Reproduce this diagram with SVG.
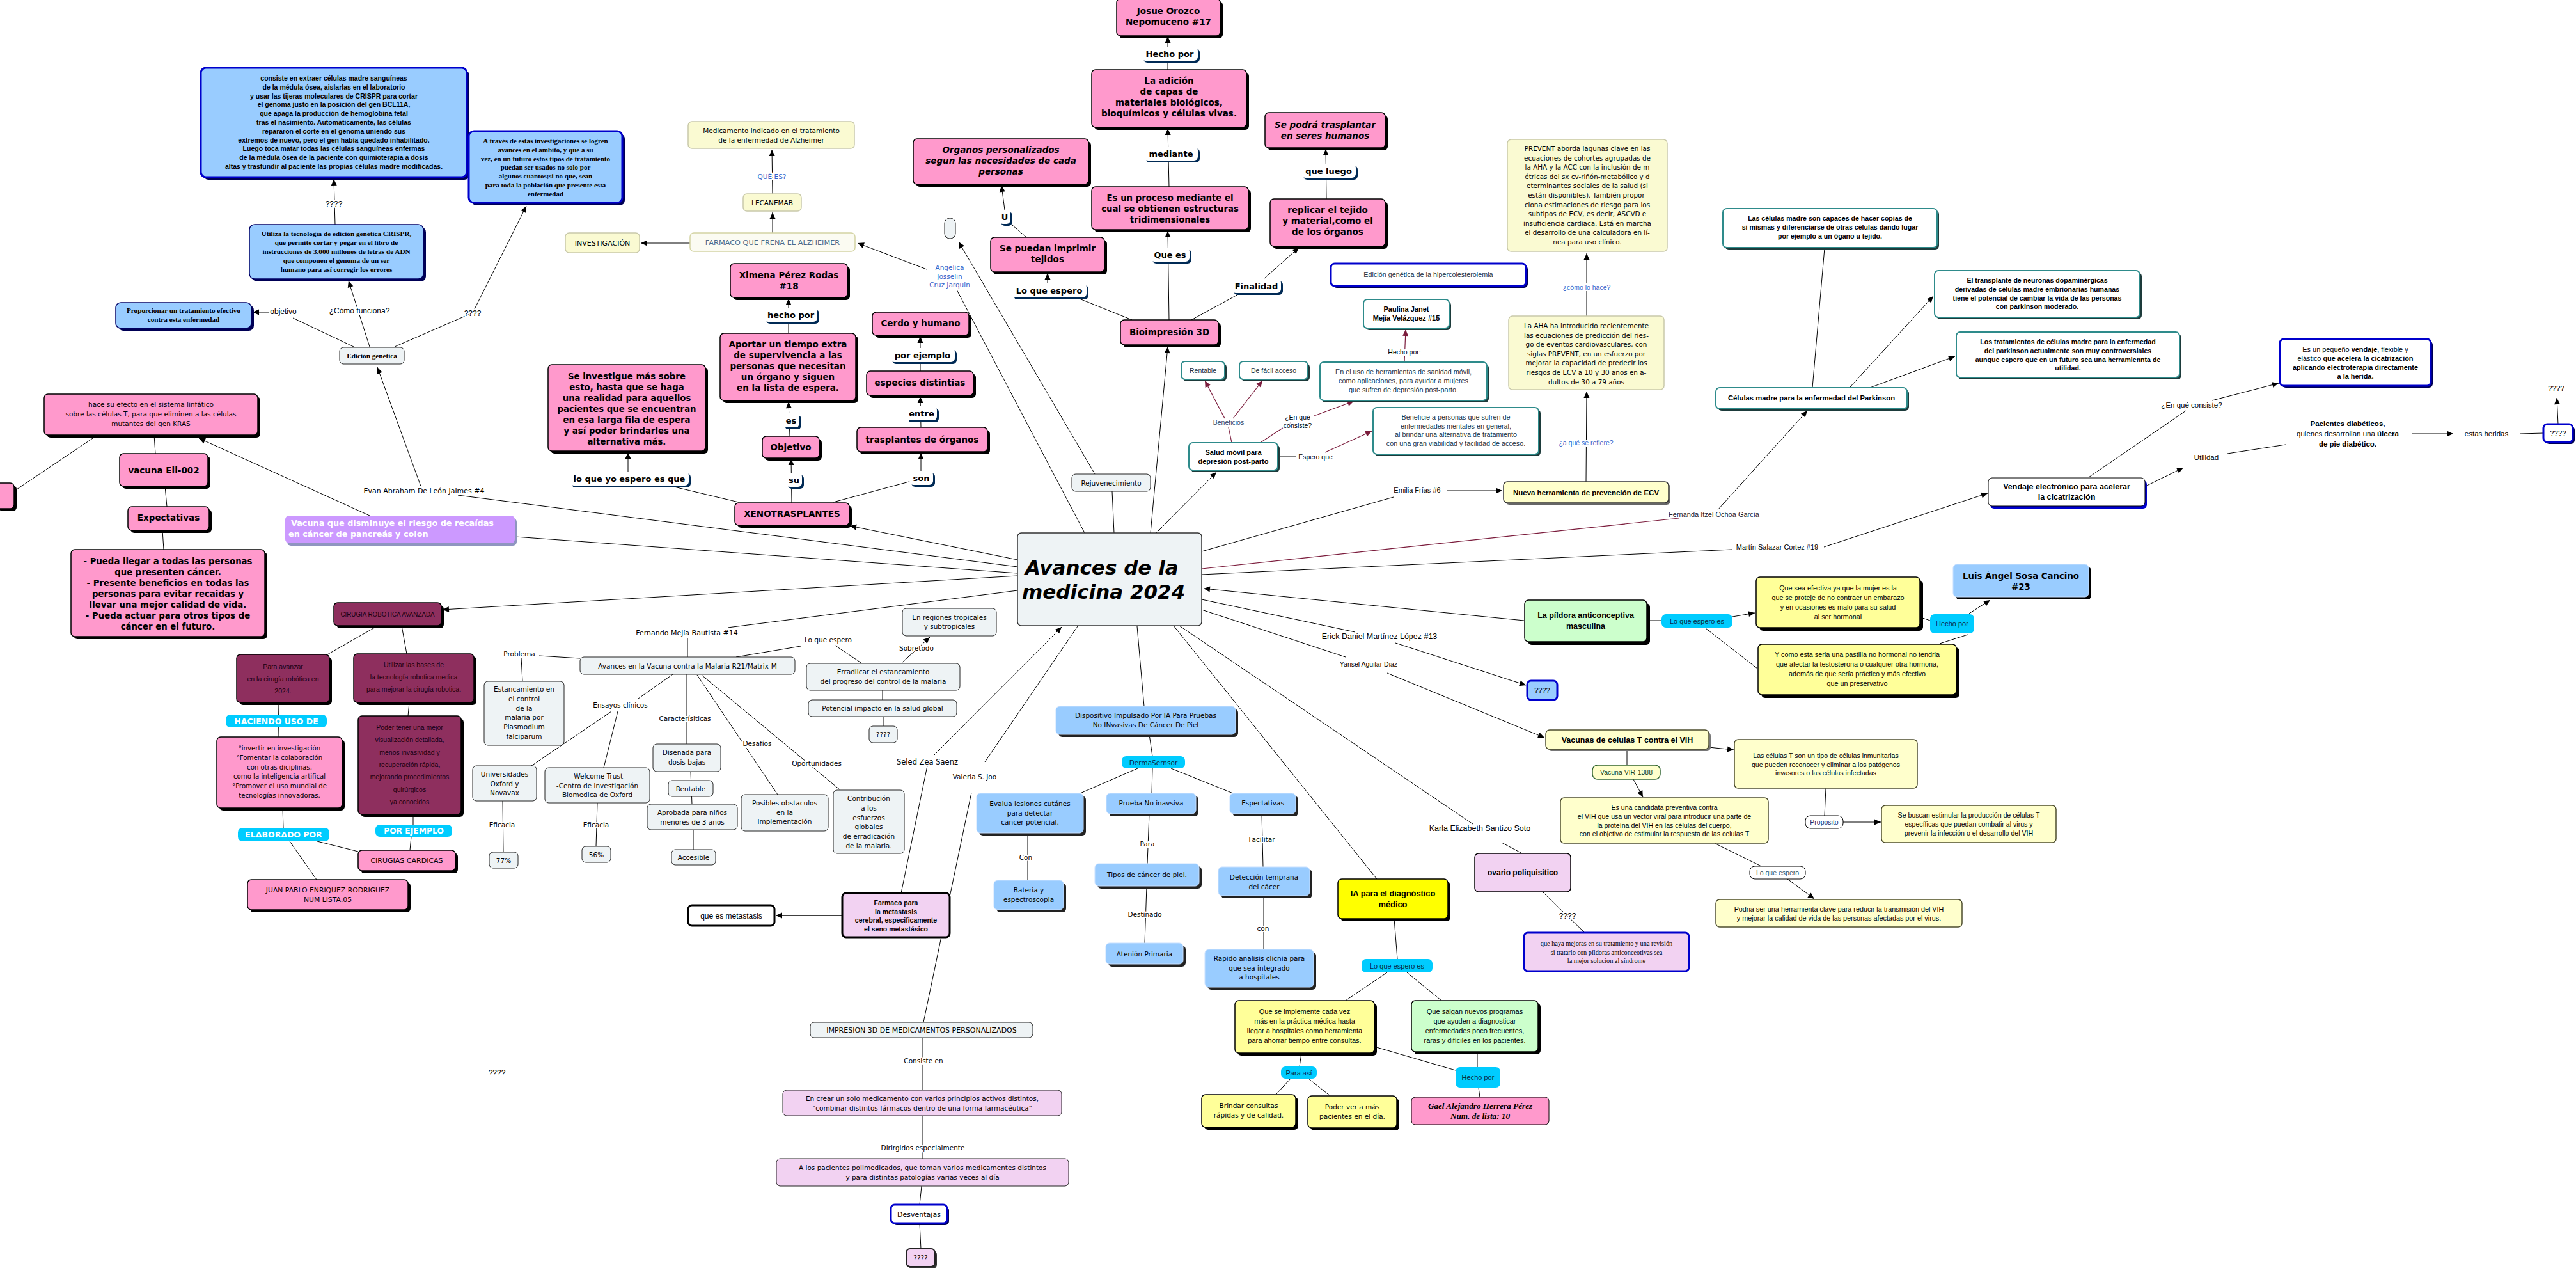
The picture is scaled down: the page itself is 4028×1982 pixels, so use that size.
<svg xmlns="http://www.w3.org/2000/svg" width="4028" height="1982" viewBox="0 0 4028 1982" font-family="'DejaVu Sans', sans-serif" font-size="10.5">
<defs>
<marker id="ah" viewBox="0 0 10 10" refX="10" refY="5" markerWidth="11" markerHeight="10" markerUnits="userSpaceOnUse" orient="auto"><path d="M0,0.5 L10,5 L0,9.5 z" fill="#000"/></marker>
<marker id="ahr" viewBox="0 0 10 10" refX="10" refY="5" markerWidth="11" markerHeight="10" markerUnits="userSpaceOnUse" orient="auto"><path d="M0,0.5 L10,5 L0,9.5 z" fill="#7b1c3c"/></marker>
</defs>
<style>
text{fill:#000}
.ar{font-family:"Liberation Sans",Arial,sans-serif}
.tm{font-family:"Liberation Serif","Times New Roman",serif}
.b{font-weight:bold}
.i{font-style:italic}
.c{text-anchor:middle}
.lbl{paint-order:stroke;stroke:#fff;stroke-width:4px;stroke-linejoin:round}
.blu{fill:#3366cc}
.wt{fill:#fff}
.ln{fill:none;stroke:#000;stroke-width:1}
.lr{fill:none;stroke:#7b1c3c;stroke-width:1.2}
.a{marker-end:url(#ah)}
.ar2{marker-end:url(#ahr)}
.pk{fill:#ff99cc;stroke:#000;stroke-width:1.5}
.shk{fill:#000}
.gy{fill:#eef3f5;stroke:#222;stroke-width:1}
.cr{fill:#fafad2;stroke:#c9c9aa;stroke-width:1.5}
.bl{fill:#99ccff;stroke:#0000cc;stroke-width:3}
.bl1{fill:#99ccff;stroke:#000066;stroke-width:1.5}
.shn{fill:#000055}
.tl{fill:#fff;stroke:#2e8b8b;stroke-width:2}
.sht{fill:#1d3b3b}
.ly{fill:#ffffcc;stroke:#4d4d2e;stroke-width:1.5}
.yy{fill:#ffff99;stroke:#000;stroke-width:1.5}
.gr{fill:#ccffcc;stroke:#000;stroke-width:1.5}
.pu{fill:#f2d2f2;stroke:#222;stroke-width:1.5}
.mg{fill:#8e2f5e;stroke:#000;stroke-width:1.5}
.cy{fill:#00ccff}
.wl{fill:#fff;stroke:#000;stroke-width:1}
.db{fill:#99ccff;stroke:#c8e0ff;stroke-width:1}
.wb{fill:#fff;stroke:#0000cc;stroke-width:3}
.wh{fill:#fff}
</style>
<rect width="4028" height="1982" fill="#fff"/>

<g id="connectors">
<path class="ln" d="M553,542 L458,497"/>
<path class="ln a" d="M430,488 L395,488"/>
<path class="ln a" d="M578,542 L545,439"/>
<path class="ln a" d="M524,351 L522,280"/>
<path class="ln a" d="M617,542 L739,489 L823,322"/>
<path class="ln a" d="M658,760 L590,574"/>
<path class="ln" d="M716,774 L1591,886"/>
<path class="ln a" d="M1079,380 L1002,380"/>
<path class="ln a" d="M1208,364 L1208,332"/>
<path class="ln a" d="M1208,303 L1207,234"/>
<path class="ln a" d="M1449,421 L1341,380"/>
<path class="ln" d="M1496,453 L1696,833"/>
<path class="ln a" d="M1712,741 L1499,378"/>
<path class="ln" d="M1739,768 L1742,833"/>
<path class="ln a" d="M1799,833 L1826,542"/>
<path class="ln a" d="M1808,833 L1902,738"/>
<path class="ln" d="M1879,862 L2179,777"/>
<path class="ln a" d="M2263,767 L2349,767"/>
<path class="ln a" d="M2480,753 L2481,612"/>
<path class="ln a" d="M2481,494 L2481,396"/>
<path class="lr" d="M1879,889 L2625,810"/>
<path class="ln a" d="M2686,797 L2826,642"/>
<path class="ln" d="M2834,606 L2853,388"/>
<path class="ln a" d="M2892,606 L3023,463"/>
<path class="ln a" d="M2924,606 L3057,557"/>
<path class="ln" d="M1879,898 L2708,859"/>
<path class="ln a" d="M2852,855 L3108,771"/>
<path class="ln" d="M3266,746 L3418,642"/>
<path class="ln a" d="M3459,626 L3563,599"/>
<path class="ln a" d="M3357,759 L3414,731"/>
<path class="ln" d="M3483,709 L3574,695"/>
<path class="ln a" d="M3772,678 L3836,678"/>
<path class="ln" d="M3941,678 L3977,677"/>
<path class="ln a" d="M4000,663 L3998,622"/>
<path class="ln a" d="M2383,970 L1882,920"/>
<path class="ln" d="M2575,970 L2598,970"/>
<path class="ln a" d="M2709,964 L2744,958"/>
<path class="ln" d="M2667,982 L2748,1045"/>
<path class="ln" d="M3003,965 L3018,970"/>
<path class="ln a" d="M3079,959 L3112,938"/>
<path class="ln" d="M3077,992 L3033,1006"/>
<path class="ln" d="M1879,937 L2119,988"/>
<path class="ln a" d="M2182,1005 L2386,1071"/>
<path class="ln" d="M1879,953 L2104,1027"/>
<path class="ln a" d="M2169,1052 L2415,1153"/>
<path class="ln a" d="M2672,1168 L2711,1172"/>
<path class="ln" d="M2544,1171 L2544,1196"/>
<path class="ln a" d="M2554,1218 L2569,1246"/>
<path class="ln" d="M2855,1232 L2853,1275"/>
<path class="ln a" d="M2882,1285 L2941,1285"/>
<path class="ln" d="M2681,1318 L2754,1354"/>
<path class="ln a" d="M2795,1374 L2837,1405"/>
<path class="ln" d="M1844,978 L2303,1288"/>
<path class="ln" d="M2348,1317 L2380,1334"/>
<path class="ln" d="M2412,1394 L2451,1432 L2478,1458"/>
<path class="ln" d="M1835,978 L2153,1374"/>
<path class="ln" d="M2180,1436 L2185,1499"/>
<path class="ln" d="M2169,1520 L2104,1564"/>
<path class="ln" d="M2200,1520 L2254,1564"/>
<path class="ln" d="M2035,1646 L2032,1667"/>
<path class="ln" d="M2018,1686 L1995,1711"/>
<path class="ln" d="M2046,1686 L2080,1713"/>
<path class="ln" d="M2310,1644 L2310,1668"/>
<path class="ln" d="M2149,1636 L2276,1673"/>
<path class="ln" d="M2312,1700 L2314,1715"/>
<path class="ln" d="M1778,979 L1789,1104"/>
<path class="ln" d="M1797,1148 L1802,1182"/>
<path class="ln" d="M1779,1201 L1689,1240"/>
<path class="ln" d="M1802,1201 L1801,1240"/>
<path class="ln" d="M1831,1201 L1928,1240"/>
<path class="ln" d="M1607,1302 L1607,1376"/>
<path class="ln" d="M1797,1272 L1794,1350"/>
<path class="ln" d="M1793,1385 L1790,1474"/>
<path class="ln" d="M1973,1272 L1975,1355"/>
<path class="ln" d="M1976,1400 L1976,1484"/>
<path class="ln" d="M1685,979 L1540,1191"/>
<path class="ln" d="M1519,1239 L1444,1598"/>
<path class="ln a" d="M1459,1182 L1660,980"/>
<path class="ln" d="M1450,1197 L1409,1396"/>
<path class="ln a" d="M1316,1431 L1213,1431" style="stroke-width:1.5"/>
<path class="ln" d="M1443,1622 L1443,1704"/>
<path class="ln" d="M1443,1744 L1443,1811"/>
<path class="ln" d="M1441,1854 L1438,1883"/>
<path class="ln" d="M1438,1912 L1440,1952"/>
<path class="ln" d="M1591,923 L1138,981"/>
<path class="ln" d="M1075,998 L1075,1027"/>
<path class="ln" d="M907,1029 L843,1025"/>
<path class="ln" d="M815,1028 L817,1065"/>
<path class="ln" d="M1052,1054 L998,1092"/>
<path class="ln" d="M956,1112 L831,1197"/>
<path class="ln" d="M966,1112 L944,1200"/>
<path class="ln" d="M786,1252 L787,1332"/>
<path class="ln" d="M934,1255 L932,1323"/>
<path class="ln" d="M1074,1054 L1074,1163"/>
<path class="ln" d="M1080,1206 L1082,1257"/>
<path class="ln" d="M1084,1297 L1084,1328"/>
<path class="ln" d="M1090,1055 L1216,1242"/>
<path class="ln" d="M1097,1055 L1314,1235"/>
<path class="ln" d="M1151,1027 L1252,1010"/>
<path class="ln" d="M1306,1009 L1348,1037"/>
<path class="ln a" d="M1409,1037 L1454,996"/>
<path class="ln" d="M1380,1079 L1380,1094"/>
<path class="ln" d="M1381,1120 L1381,1135"/>
<path class="ln a" d="M1591,900 L692,953"/>
<path class="ln" d="M591,978 L512,1023"/>
<path class="ln" d="M628,978 L636,1022"/>
<path class="ln" d="M436,1098 L435,1152"/>
<path class="ln" d="M442,1263 L443,1294"/>
<path class="ln" d="M496,1315 L560,1331"/>
<path class="ln" d="M453,1315 L495,1375"/>
<path class="ln" d="M640,1098 L638,1119"/>
<path class="ln" d="M646,1273 L646,1289"/>
<path class="ln" d="M643,1308 L641,1329"/>
<path class="ln" d="M1591,896 L806,839"/>
<path class="ln a" d="M578,806 L311,685"/>
<path class="ln" d="M241,680 L243,709"/>
<path class="ln" d="M258,760 L261,792"/>
<path class="ln" d="M254,829 L256,859"/>
<path class="ln" d="M26,765 L151,681"/>
<path class="ln a" d="M1591,875 L1329,822"/>
<path class="ln a" d="M1238,786 L1237,717"/>
<path class="ln a" d="M1235,682 L1233,628"/>
<path class="ln a" d="M1233,521 L1233,467"/>
<path class="ln" d="M1303,785 L1425,752"/>
<path class="ln a" d="M1440,737 L1440,708"/>
<path class="ln a" d="M1440,668 L1439,620"/>
<path class="ln a" d="M1439,580 L1439,526"/>
<path class="ln" d="M1155,785 L1050,760"/>
<path class="ln a" d="M982,737 L982,707"/>
<path class="ln a" d="M1828,500 L1826,361"/>
<path class="ln a" d="M1828,292 L1826,201"/>
<path class="ln a" d="M1826,109 L1826,57"/>
<path class="ln" d="M1770,500 L1683,465"/>
<path class="ln a" d="M1638,443 L1638,427"/>
<path class="ln" d="M1605,371 L1583,352"/>
<path class="ln a" d="M1571,328 L1566,290"/>
<path class="ln" d="M1863,500 L1940,458"/>
<path class="ln a" d="M1976,436 L2031,387"/>
<path class="ln a" d="M2074,311 L2073,233"/>
<path class="lr" d="M1926,692 L1921,668"/>
<path class="lr ar2" d="M1915,654 L1884,595"/>
<path class="lr ar2" d="M1928,654 L1974,595"/>
<path class="lr" d="M1969,693 L2018,661"/>
<path class="lr ar2" d="M2055,650 L2117,627"/>
<path class="lr ar2" d="M2196,566 L2198,515"/>
<path class="ln" d="M1998,714 L2026,714"/>
<path class="lr ar2" d="M2072,707 L2145,674"/>
</g>

<g id="labels">
<text class="ar c lbl" x="522" y="323" font-size="12">????</text>
<text class="ar c lbl" x="443" y="491" font-size="12">objetivo</text>
<text class="ar c lbl" x="562" y="490" font-size="12">¿Cómo funciona?</text>
<text class="ar c lbl" x="739" y="494" font-size="12">????</text>
<text class="c lbl" x="663" y="771" font-size="11">Evan Abraham De León Jaimes #4</text>
<text class="c lbl blu" x="1207" y="280" font-size="10.5">QUÉ ES?</text>
<text class="c lbl blu" font-size="10.5"><tspan x="1485" y="422">Angelica</tspan><tspan x="1485" dy="13.5">Josselin</tspan><tspan x="1485" dy="13.5">Cruz Jarquin</tspan></text>
<text class="c lbl" x="1074" y="993" font-size="11">Fernando Mejía Bautista #14</text>
<text class="c lbl" x="812" y="1026">Problema</text>
<text class="c lbl" x="970" y="1106">Ensayos clínicos</text>
<text class="c lbl" x="1071" y="1127">Caracterísiticas</text>
<text class="c lbl" x="1184" y="1166">Desafíos</text>
<text class="c lbl" x="1277" y="1197">Oportunidades</text>
<text class="c lbl" x="785" y="1293">Eficacia</text>
<text class="c lbl" x="932" y="1293">Eficacia</text>
<text class="c lbl" x="1295" y="1004">Lo que espero</text>
<text class="c lbl" x="1433" y="1017">Sobretodo</text>
<text class="c lbl" x="1450" y="1195" font-size="11.5">Seled Zea Saenz</text>
<text class="c lbl" x="1524" y="1218" font-size="10.5">Valeria S. Joo</text>
<text class="c lbl" x="1444" y="1662">Consiste en</text>
<text class="c lbl" x="1443" y="1798">Dirirgidos especialmente</text>
<text class="c lbl" x="1604" y="1344">Con</text>
<text class="c lbl" x="1794" y="1323">Para</text>
<text class="c lbl" x="1790" y="1433">Destinado</text>
<text class="c lbl" x="1973" y="1316">Facilitar</text>
<text class="c lbl" x="1975" y="1455">con</text>
<text class="ar c lbl" x="777" y="1681" font-size="12">????</text>
<text class="ar c lbl" x="2216" y="770" font-size="11">Emilia Frías #6</text>
<text class="ar c lbl blu" x="2481" y="453" font-size="10.5">¿cómo lo hace?</text>
<text class="ar c lbl blu" x="2480" y="696" font-size="10.5">¿a qué se refiere?</text>
<text class="ar c lbl" x="2680" y="808" font-size="11" style="fill:#223">Fernanda Itzel Ochoa García</text>
<text class="ar c lbl" x="2779" y="859" font-size="11">Martín Salazar Cortez #19</text>
<text class="ar c lbl" x="2157" y="999" font-size="12.5">Erick Daniel Martínez López #13</text>
<text class="ar c lbl" x="2140" y="1042" font-size="10.5">Yarisel Aguilar Diaz</text>
<text class="ar c lbl" x="2314" y="1299" font-size="12.5">Karla Elizabeth Santizo Soto</text>
<text class="ar c lbl" x="2451" y="1436" font-size="12">????</text>
<text class="ar c lbl" x="1921" y="664" font-size="10.5" style="fill:#334466">Beneficios</text>
<text class="ar c lbl" font-size="10.5"><tspan x="2029" y="656">¿En qué</tspan><tspan x="2029" dy="13">consiste?</tspan></text>
<text class="ar c lbl" x="2196" y="554" font-size="10.5">Hecho por:</text>
<text class="ar c lbl" x="2057" y="718" font-size="10.5">Espero que</text>
<text class="ar c lbl" x="3427" y="637" font-size="11.5">¿En qué consiste?</text>
<text class="ar c lbl" x="3450" y="719" font-size="11.5">Utilidad</text>
<text class="ar c lbl" font-size="11.5"><tspan x="3671" y="666" class="b">Pacientes diabéticos,</tspan><tspan x="3671" dy="16">quienes desarrollan una </tspan><tspan class="b">úlcera</tspan><tspan x="3671" dy="16" class="b">de pie diabético.</tspan></text>
<text class="ar c lbl" x="3888" y="682" font-size="11.5">estas heridas</text>
<text class="ar c lbl" x="3997" y="611" font-size="11.5">????</text>
</g>

<g id="n-crispr-detalle"><rect x="318" y="110" width="416" height="171" rx="8" class="shn"/><rect x="314" y="106" width="416" height="171" rx="8" class="bl"/>
<text class="ar b c" font-size="10.5"><tspan x="522" y="126">consiste en extraer células madre sanguíneas</tspan><tspan x="522" dy="13.8">de la médula ósea, aislarlas en el laboratorio</tspan><tspan x="522" dy="13.8">y usar las tijeras moleculares de CRISPR para cortar</tspan><tspan x="522" dy="13.8">el genoma justo en la posición del gen BCL11A,</tspan><tspan x="522" dy="13.8">que apaga la producción de hemoglobina fetal</tspan><tspan x="522" dy="13.8">tras el nacimiento. Automáticamente, las células</tspan><tspan x="522" dy="13.8">repararon el corte en el genoma uniendo sus</tspan><tspan x="522" dy="13.8">extremos de nuevo, pero el gen había quedado inhabilitado.</tspan><tspan x="522" dy="13.8">Luego toca matar todas las células sanguíneas enfermas</tspan><tspan x="522" dy="13.8">de la médula ósea de la paciente con quimioterapia a dosis</tspan><tspan x="522" dy="13.8">altas y trasfundir al paciente las propias células madre modificadas.</tspan></text></g>

<g id="n-investigaciones"><rect x="737" y="209" width="240" height="112" rx="8" class="shn"/><rect x="733" y="205" width="240" height="112" rx="8" class="bl"/>
<text class="tm b c" font-size="11"><tspan x="853" y="224">A través de estas investigaciones se logren</tspan><tspan x="853" dy="13.8">avances en el ámbito, y que a su</tspan><tspan x="853" dy="13.8">vez, en un futuro estos tipos de tratamiento</tspan><tspan x="853" dy="13.8">puedan ser usados no solo por</tspan><tspan x="853" dy="13.8">algunos cuantos;si no que, sean</tspan><tspan x="853" dy="13.8">para toda la población que presente esta</tspan><tspan x="853" dy="13.8">enfermedad</tspan></text></g>

<g id="n-utiliza"><rect x="394" y="355" width="272" height="85" rx="8" class="shn"/><rect x="390" y="351" width="272" height="85" rx="8" class="bl1"/>
<text class="tm b c" font-size="11.2"><tspan x="526" y="369">Utiliza la tecnología de edición genética CRISPR,</tspan><tspan x="526" dy="14">que permite cortar y pegar en el libro de</tspan><tspan x="526" dy="14">instrucciones de 3.000 millones de letras de ADN</tspan><tspan x="526" dy="14">que componen el genoma de un ser</tspan><tspan x="526" dy="14">humano para así corregir los errores</tspan></text></g>

<g id="n-proporcionar"><rect x="185" y="477" width="212" height="40" rx="8" class="shn"/><rect x="181" y="473" width="212" height="40" rx="8" class="bl1"/>
<text class="tm b c" font-size="11.2"><tspan x="287" y="489">Proporcionar un tratamiento efectivo</tspan><tspan x="287" dy="14">contra esta enfermedad</tspan></text></g>

<g id="n-edicion"><rect x="531" y="543" width="101" height="26" rx="6" class="gy"/><text class="tm b c" x="581.5" y="560" font-size="11.2">Edición genética</text></g>

<g id="n-investigacion"><rect x="884" y="364" width="116" height="31" rx="6" class="cr"/><text class="c" x="942" y="384" font-size="11">INVESTIGACIÓN</text></g>
<g id="n-farmaco-alz"><rect x="1079" y="364" width="258" height="29" rx="6" style="fill:#fbfbf2;stroke:#d4d4a4;stroke-width:1.5"/><text class="c" x="1208" y="383" font-size="11.3" style="fill:#4a6a8a">FARMACO QUE FRENA EL ALZHEIMER</text></g>
<g id="n-lecanemab"><rect x="1162" y="303" width="91" height="27" rx="6" class="cr"/><text class="c" x="1207.5" y="321" font-size="10.5">LECANEMAB</text></g>
<g id="n-medicamento"><rect x="1076" y="190" width="260" height="42" rx="6" class="cr"/><text class="c" font-size="10.5"><tspan x="1206" y="208">Medicamento indicado en el tratamiento</tspan><tspan x="1206" dy="15">de la enfermedad de Alzheimer</tspan></text></g>

<g id="n-pill"><rect x="1477" y="341" width="17" height="32" rx="8" class="gy"/></g>

<g id="n-josue"><rect x="1750" y="2" width="162" height="58" rx="6" class="shk"/><rect x="1746" y="-2" width="162" height="58" rx="6" class="pk"/><text class="b c" font-size="13.5"><tspan x="1827" y="22">Josue Orozco</tspan><tspan x="1827" dy="17">Nepomuceno #17</tspan></text></g>
<g id="n-adicion"><rect x="1711" y="113" width="242" height="90" rx="6" class="shk"/><rect x="1707" y="109" width="242" height="90" rx="6" class="pk"/><text class="b c" font-size="13.5"><tspan x="1828" y="131">La adición</tspan><tspan x="1828" dy="17">de capas de</tspan><tspan x="1828" dy="17">materiales biológicos,</tspan><tspan x="1828" dy="17">bioquímicos y células vivas.</tspan></text></g>
<g id="n-proceso"><rect x="1711" y="296" width="245" height="67" rx="6" class="shk"/><rect x="1707" y="292" width="245" height="67" rx="6" class="pk"/><text class="b c" font-size="13.3"><tspan x="1829.5" y="314">Es un proceso mediante el</tspan><tspan x="1829.5" dy="17">cual se obtienen estructuras</tspan><tspan x="1829.5" dy="17">tridimensionales</tspan></text></g>
<g id="n-bioimpresion"><rect x="1756" y="504" width="153" height="39" rx="6" class="shk"/><rect x="1752" y="500" width="153" height="39" rx="6" class="pk"/><text class="b c" x="1828.5" y="524" font-size="13.5">Bioimpresión 3D</text></g>
<g id="n-tejidos"><rect x="1553" y="375" width="178" height="54" rx="6" class="shk"/><rect x="1549" y="371" width="178" height="54" rx="6" class="pk"/><text class="b c" font-size="13.5"><tspan x="1638" y="393">Se puedan imprimir</tspan><tspan x="1638" dy="17">tejidos</tspan></text></g>
<g id="n-organos"><rect x="1432" y="221" width="274" height="71" rx="6" class="shk"/><rect x="1428" y="217" width="274" height="71" rx="6" class="pk"/><text class="b i c" font-size="13.5"><tspan x="1565" y="239">Organos personalizados</tspan><tspan x="1565" dy="17">segun las necesidades de cada</tspan><tspan x="1565" dy="17">personas</tspan></text></g>
<g id="n-sepodra"><rect x="1982" y="180" width="188" height="55" rx="6" class="shk"/><rect x="1978" y="176" width="188" height="55" rx="6" class="pk"/><text class="b i c" font-size="13.5"><tspan x="2072" y="200">Se podrá trasplantar</tspan><tspan x="2072" dy="17">en seres humanos</tspan></text></g>
<g id="n-replicar"><rect x="1990" y="315" width="180" height="74" rx="6" class="shk"/><rect x="1986" y="311" width="180" height="74" rx="6" class="pk"/><text class="b c" font-size="13.5"><tspan x="2076" y="333">replicar el tejido</tspan><tspan x="2076" dy="17">y material,como el</tspan><tspan x="2076" dy="17">de los órganos</tspan></text></g>
<g id="n-ximena"><rect x="1146" y="416" width="183" height="53" rx="6" class="shk"/><rect x="1142" y="412" width="183" height="53" rx="6" class="pk"/><text class="b c" font-size="13.5"><tspan x="1233.5" y="435">Ximena Pérez Rodas</tspan><tspan x="1233.5" dy="17">#18</tspan></text></g>
<g id="n-aportar"><rect x="1130" y="525" width="212" height="105" rx="6" class="shk"/><rect x="1126" y="521" width="212" height="105" rx="6" class="pk"/><text class="b c" font-size="13.5"><tspan x="1232" y="543">Aportar un tiempo extra</tspan><tspan x="1232" dy="17">de supervivencia a las</tspan><tspan x="1232" dy="17">personas que necesitan</tspan><tspan x="1232" dy="17">un órgano y siguen</tspan><tspan x="1232" dy="17">en la lista de espera.</tspan></text></g>
<g id="n-cerdo"><rect x="1368" y="492" width="151" height="36" rx="6" class="shk"/><rect x="1364" y="488" width="151" height="36" rx="6" class="pk"/><text class="b c" x="1439.5" y="510" font-size="13.5">Cerdo y humano</text></g>
<g id="n-especies"><rect x="1359" y="584" width="167" height="38" rx="6" class="shk"/><rect x="1355" y="580" width="167" height="38" rx="6" class="pk"/><text class="b c" x="1438.5" y="603" font-size="13.5">especies distintias</text></g>
<g id="n-trasplantes"><rect x="1344" y="672" width="204" height="38" rx="6" class="shk"/><rect x="1340" y="668" width="204" height="38" rx="6" class="pk"/><text class="b c" x="1442" y="692" font-size="13.5">trasplantes de órganos</text></g>
<g id="n-objetivo"><rect x="1196" y="686" width="89" height="34" rx="6" class="shk"/><rect x="1192" y="682" width="89" height="34" rx="6" class="pk"/><text class="b c" x="1236.5" y="704" font-size="13.5">Objetivo</text></g>
<g id="n-xeno"><rect x="1153" y="790" width="179" height="35" rx="6" class="shk"/><rect x="1149" y="786" width="179" height="35" rx="6" class="pk"/><text class="b c" x="1238.5" y="808" font-size="13.5">XENOTRASPLANTES</text></g>
<g id="n-investigue"><rect x="861" y="574" width="246" height="135" rx="6" class="shk"/><rect x="857" y="570" width="246" height="135" rx="6" class="pk"/><text class="b c" font-size="13.3"><tspan x="980" y="593">Se investigue más sobre</tspan><tspan x="980" dy="17">esto, hasta que se haga</tspan><tspan x="980" dy="17">una realidad para aquellos</tspan><tspan x="980" dy="17">pacientes que se encuentran</tspan><tspan x="980" dy="17">en esa larga fila de espera</tspan><tspan x="980" dy="17">y así poder brindarles una</tspan><tspan x="980" dy="17">alternativa más.</tspan></text></g>
<g id="n-eli"><rect x="191" y="713" width="138" height="51" rx="6" class="shk"/><rect x="187" y="709" width="138" height="51" rx="6" class="pk"/><text class="b c" x="256" y="740" font-size="13.5">vacuna Eli-002</text></g>
<g id="n-expectativas"><rect x="204" y="796" width="127" height="37" rx="6" class="shk"/><rect x="200" y="792" width="127" height="37" rx="6" class="pk"/><text class="b c" x="263.5" y="814" font-size="13.5">Expectativas</text></g>
<g id="n-lista"><rect x="115" y="863" width="303" height="136" rx="6" class="shk"/><rect x="111" y="859" width="303" height="136" rx="6" class="pk"/><text class="b c" font-size="13.3"><tspan x="262.5" y="882">- Pueda llegar a todas las personas</tspan><tspan x="262.5" dy="17">que presenten cáncer.</tspan><tspan x="262.5" dy="17">- Presente beneficios en todas las</tspan><tspan x="262.5" dy="17">personas para evitar recaidas y</tspan><tspan x="262.5" dy="17">llevar una mejor calidad de vida.</tspan><tspan x="262.5" dy="17">- Pueda actuar para otros tipos de</tspan><tspan x="262.5" dy="17">cáncer en el futuro.</tspan></text></g>
<g id="n-efecto"><rect x="73" y="620" width="334" height="64" rx="6" class="shk"/><rect x="69" y="616" width="334" height="64" rx="6" class="pk"/><text class="c" font-size="10.5"><tspan x="236" y="636">hace su efecto en el sistema linfático</tspan><tspan x="236" dy="15">sobre las células T, para que eliminen a las células</tspan><tspan x="236" dy="15">mutantes del gen KRAS</tspan></text></g>
<g id="n-stub"><rect x="-2" y="759" width="28" height="40" rx="6" class="shk"/><rect x="-6" y="755" width="28" height="40" rx="6" class="pk"/></g>

<g id="link-phrases">
<rect x="1788" y="76" width="88" height="22" rx="6" fill="#002a55"/><rect x="1785" y="73" width="88" height="22" rx="6" class="wh"/><text class="b c" x="1829" y="88.5" font-size="13">Hecho por</text>
<rect x="1792" y="232" width="84" height="22" rx="6" fill="#002a55"/><rect x="1789" y="229" width="84" height="22" rx="6" class="wh"/><text class="b c" x="1831" y="244.5" font-size="13">mediante</text>
<rect x="1802" y="390" width="61" height="22" rx="6" fill="#002a55"/><rect x="1799" y="387" width="61" height="22" rx="6" class="wh"/><text class="b c" x="1829.5" y="402.5" font-size="13">Que es</text>
<rect x="1929" y="439" width="77" height="22" rx="6" fill="#002a55"/><rect x="1926" y="436" width="77" height="22" rx="6" class="wh"/><text class="b c" x="1964.5" y="451.5" font-size="13">Finalidad</text>
<rect x="1585" y="446" width="117" height="22" rx="6" fill="#002a55"/><rect x="1582" y="443" width="117" height="22" rx="6" class="wh"/><text class="b c" x="1640.5" y="458.5" font-size="13">Lo que espero</text>
<rect x="1565" y="331" width="18" height="22" rx="6" fill="#002a55"/><rect x="1562" y="328" width="18" height="22" rx="6" class="wh"/><text class="b c" x="1571" y="343.5" font-size="13">U</text>
<rect x="2038" y="259" width="85" height="22" rx="6" fill="#002a55"/><rect x="2035" y="256" width="85" height="22" rx="6" class="wh"/><text class="b c" x="2077.5" y="271.5" font-size="13">que luego</text>
<rect x="1198" y="484" width="83" height="22" rx="6" fill="#002a55"/><rect x="1195" y="481" width="83" height="22" rx="6" class="wh"/><text class="b c" x="1236.5" y="496.5" font-size="13">hecho por</text>
<rect x="1227" y="649" width="26" height="22" rx="6" fill="#002a55"/><rect x="1224" y="646" width="26" height="22" rx="6" class="wh"/><text class="b c" x="1237" y="661.5" font-size="13">es</text>
<rect x="1232" y="742" width="25" height="22" rx="6" fill="#002a55"/><rect x="1229" y="739" width="25" height="22" rx="6" class="wh"/><text class="b c" x="1241.5" y="754.5" font-size="13">su</text>
<rect x="1425" y="739" width="37" height="22" rx="6" fill="#002a55"/><rect x="1422" y="736" width="37" height="22" rx="6" class="wh"/><text class="b c" x="1440.5" y="751.5" font-size="13">son</text>
<rect x="1420" y="638" width="48" height="22" rx="6" fill="#002a55"/><rect x="1417" y="635" width="48" height="22" rx="6" class="wh"/><text class="b c" x="1441" y="650.5" font-size="13">entre</text>
<rect x="1395" y="547" width="101" height="22" rx="6" fill="#002a55"/><rect x="1392" y="544" width="101" height="22" rx="6" class="wh"/><text class="b c" x="1442.5" y="559.5" font-size="13">por ejemplo</text>
<rect x="894" y="740" width="186" height="22" rx="6" fill="#002a55"/><rect x="891" y="737" width="186" height="22" rx="6" class="wh"/><text class="b c" x="984" y="752.5" font-size="13">lo que yo espero es que</text>
</g>

<g id="n-rejuvenecimiento"><rect x="1676" y="741" width="123" height="27" rx="6" class="gy"/><text class="c" x="1737.5" y="758.5">Rejuvenecimiento</text></g>

<g id="n-centro"><rect x="1591" y="833" width="288" height="145" rx="6" style="fill:#eef3f5;stroke:#333;stroke-width:1.5"/><text class="b i" font-size="31"><tspan x="1603" y="898">Avances de la</tspan><tspan x="1598" y="936">medicina 2024</tspan></text></g>

<g id="n-regiones"><rect x="1411" y="951" width="147" height="43" rx="6" class="gy"/><text class="c"><tspan x="1484.5" y="969">En regiones tropicales</tspan><tspan x="1484.5" dy="14">y subtropicales</tspan></text></g>
<g id="n-erradicar"><rect x="1261" y="1037" width="240" height="42" rx="6" class="gy"/><text class="c"><tspan x="1381" y="1054">Erradiicar el estancamiento</tspan><tspan x="1381" dy="15">del progreso del control de la malaria</tspan></text></g>
<g id="n-potencial"><rect x="1264" y="1094" width="232" height="26" rx="6" class="gy"/><text class="c" x="1380" y="1111">Potencial impacto en la salud global</text></g>
<g id="n-q-malaria"><rect x="1359" y="1135" width="44" height="26" rx="6" class="gy"/><text class="c" x="1381" y="1152">????</text></g>
<g id="n-malaria"><rect x="907" y="1027" width="336" height="27" rx="6" class="gy"/><text class="c" x="1075" y="1045">Avances en la Vacuna contra la Malaria R21/Matrix-M</text></g>
<g id="n-estancamiento"><rect x="757" y="1065" width="125" height="100" rx="6" class="gy"/><text class="c"><tspan x="819.5" y="1081">Estancamiento en</tspan><tspan x="819.5" dy="14.8">el control</tspan><tspan x="819.5" dy="14.8">de la</tspan><tspan x="819.5" dy="14.8">malaria por</tspan><tspan x="819.5" dy="14.8">Plasmodium</tspan><tspan x="819.5" dy="14.8">falciparum</tspan></text></g>
<g id="n-universidades"><rect x="739" y="1197" width="100" height="55" rx="6" class="gy"/><text class="c"><tspan x="789" y="1214">Universidades</tspan><tspan x="789" dy="14.5">Oxford y</tspan><tspan x="789" dy="14.5">Novavax</tspan></text></g>
<g id="n-welcome"><rect x="852" y="1200" width="164" height="55" rx="6" class="gy"/><text class="c"><tspan x="934" y="1217">-Welcome Trust</tspan><tspan x="934" dy="14.5">-Centro de investigación</tspan><tspan x="934" dy="14.5">Biomedica de Oxford</tspan></text></g>
<g id="n-77"><rect x="765" y="1332" width="45" height="25" rx="6" class="gy"/><text class="c" x="787.5" y="1348.5">77%</text></g>
<g id="n-56"><rect x="910" y="1323" width="45" height="25" rx="6" class="gy"/><text class="c" x="932.5" y="1339.5">56%</text></g>
<g id="n-disenada"><rect x="1021" y="1163" width="106" height="43" rx="6" class="gy"/><text class="c"><tspan x="1074" y="1180">Diseñada para</tspan><tspan x="1074" dy="14.5">dosis bajas</tspan></text></g>
<g id="n-rentable-m"><rect x="1045" y="1220" width="70" height="25" rx="6" class="gy"/><text class="c" x="1080" y="1236.5">Rentable</text></g>
<g id="n-aprobada"><rect x="1012" y="1257" width="141" height="40" rx="6" class="gy"/><text class="c"><tspan x="1082.5" y="1274">Aprobada para niños</tspan><tspan x="1082.5" dy="14.5">menores de 3 años</tspan></text></g>
<g id="n-accesible"><rect x="1050" y="1328" width="69" height="24" rx="6" class="gy"/><text class="c" x="1084.5" y="1344">Accesible</text></g>
<g id="n-posibles"><rect x="1159" y="1242" width="136" height="57" rx="6" class="gy"/><text class="c"><tspan x="1227" y="1259">Posibles obstaculos</tspan><tspan x="1227" dy="14.5">en la</tspan><tspan x="1227" dy="14.5">implementación</tspan></text></g>
<g id="n-contribucion"><rect x="1303" y="1235" width="111" height="99" rx="6" class="gy"/><text class="c"><tspan x="1358.5" y="1252">Contribución</tspan><tspan x="1358.5" dy="14.8">a los</tspan><tspan x="1358.5" dy="14.8">esfuerzos</tspan><tspan x="1358.5" dy="14.8">globales</tspan><tspan x="1358.5" dy="14.8">de erradicación</tspan><tspan x="1358.5" dy="14.8">de la malaria.</tspan></text></g>

<g id="n-metastasis"><rect x="1317" y="1396" width="168" height="69" rx="6" style="fill:#f2d2f2;stroke:#000;stroke-width:3"/><text class="ar b c" font-size="10.5"><tspan x="1401" y="1415">Farmaco para</tspan><tspan x="1401" dy="13.7">la metastasis</tspan><tspan x="1401" dy="13.7">cerebral, especificamente</tspan><tspan x="1401" dy="13.7">el seno metastásico</tspan></text></g>
<g id="n-quees-metastasis"><rect x="1076" y="1415" width="135" height="32" rx="6" style="fill:#fff;stroke:#000;stroke-width:3"/><text class="ar c" x="1143.5" y="1435.5" font-size="12">que es metastasis</text></g>
<g id="n-impresion"><rect x="1267" y="1598" width="348" height="24" rx="6" class="gy"/><text class="c" x="1441" y="1614" font-size="11">IMPRESION 3D DE MEDICAMENTOS PERSONALIZADOS</text></g>
<g id="n-encrear"><rect x="1224" y="1704" width="436" height="40" rx="6" class="pu" style="stroke-width:1"/><text class="c"><tspan x="1442" y="1721">En crear un solo medicamento con varios principios activos distintos,</tspan><tspan x="1442" dy="15">"combinar distintos fármacos dentro de una forma farmacéutica"</tspan></text></g>
<g id="n-pacientes"><rect x="1214" y="1811" width="457" height="43" rx="6" class="pu" style="stroke-width:1"/><text class="c"><tspan x="1442.5" y="1829">A los pacientes polimedicados, que toman varios medicamentes distintos</tspan><tspan x="1442.5" dy="15">y para distintas patologías varias veces al día</tspan></text></g>
<g id="n-desventajas"><rect x="1396" y="1886" width="88" height="29" rx="6" class="shn"/><rect x="1393" y="1883" width="88" height="29" rx="6" class="wb"/><text class="c" x="1437" y="1901.5" font-size="11">Desventajas</text></g>
<g id="n-q-desv"><rect x="1420" y="1955" width="45" height="28" rx="6" fill="#333"/><rect x="1417" y="1952" width="45" height="28" rx="6" class="pu" style="stroke-width:2"/><text class="c" x="1439.5" y="1970">????</text></g>

<g id="n-dispositivo"><rect x="1655" y="1108" width="281" height="44" rx="6" fill="#222"/><rect x="1651" y="1104" width="281" height="44" rx="6" class="db"/><text class="c"><tspan x="1791.5" y="1122">Dispositivo Impulsado Por IA Para Pruebas</tspan><tspan x="1791.5" dy="15">No INvasivas De Cáncer De Piel</tspan></text></g>
<g id="n-dermasensor"><rect x="1754" y="1182" width="99" height="19" rx="7" class="cy"/><text class="c" x="1803.5" y="1195.5" style="fill:#0a2a4a">DermaSernsor</text></g>
<g id="n-evalua"><rect x="1531" y="1244" width="167" height="62" rx="6" fill="#222"/><rect x="1527" y="1240" width="167" height="62" rx="6" class="db"/><text class="c"><tspan x="1610.5" y="1260">Evalua lesiones cutánes</tspan><tspan x="1610.5" dy="14.5">para detectar</tspan><tspan x="1610.5" dy="14.5">cancer potencial.</tspan></text></g>
<g id="n-prueba"><rect x="1734" y="1244" width="140" height="32" rx="6" fill="#222"/><rect x="1730" y="1240" width="140" height="32" rx="6" class="db"/><text class="c" x="1800" y="1259">Prueba No inavsiva</text></g>
<g id="n-espectativas"><rect x="1927" y="1244" width="103" height="32" rx="6" fill="#222"/><rect x="1923" y="1240" width="103" height="32" rx="6" class="db"/><text class="c" x="1974.5" y="1259">Espectativas</text></g>
<g id="n-tipos"><rect x="1716" y="1354" width="163" height="35" rx="6" fill="#222"/><rect x="1712" y="1350" width="163" height="35" rx="6" class="db"/><text class="c" x="1793.5" y="1371">Tipos de cáncer de piel.</text></g>
<g id="n-atencion"><rect x="1733" y="1478" width="121" height="33" rx="6" fill="#222"/><rect x="1729" y="1474" width="121" height="33" rx="6" class="db"/><text class="c" x="1789.5" y="1494.5">Atenión Primaria</text></g>
<g id="n-deteccion"><rect x="1909" y="1359" width="143" height="45" rx="6" fill="#222"/><rect x="1905" y="1355" width="143" height="45" rx="6" class="db"/><text class="c"><tspan x="1976.5" y="1375">Detección temprana</tspan><tspan x="1976.5" dy="14.5">del cácer</tspan></text></g>
<g id="n-rapido"><rect x="1888" y="1488" width="170" height="59" rx="6" fill="#222"/><rect x="1884" y="1484" width="170" height="59" rx="6" class="db"/><text class="c"><tspan x="1969" y="1502">Rapido analisis clicnia para</tspan><tspan x="1969" dy="14.5">que sea integrado</tspan><tspan x="1969" dy="14.5">a hospitales</tspan></text></g>
<g id="n-bateria"><rect x="1558" y="1380" width="109" height="46" rx="6" fill="#222"/><rect x="1554" y="1376" width="109" height="46" rx="6" class="db"/><text class="c"><tspan x="1608.5" y="1395">Bateria y</tspan><tspan x="1608.5" dy="14.5">espectroscopia</tspan></text></g>

<g id="n-ia"><rect x="2096" y="1378" width="172" height="62" rx="6" class="shk"/><rect x="2092" y="1374" width="172" height="62" rx="6" style="fill:#ffff00;stroke:#000;stroke-width:1.5"/><text class="ar b c" font-size="12.8"><tspan x="2178" y="1401">IA para el diagnóstico</tspan><tspan x="2178" dy="17">médico</tspan></text></g>
<g id="n-ia-espero"><rect x="2129" y="1499" width="111" height="21" rx="7" class="cy"/><text class="ar c" x="2184.5" y="1513.5" font-size="11" style="fill:#0a2a4a">Lo que espero es</text></g>
<g id="n-implemente"><rect x="1935" y="1568" width="218" height="82" rx="6" class="shk"/><rect x="1931" y="1564" width="218" height="82" rx="6" class="yy"/><text class="ar c" font-size="11"><tspan x="2040" y="1585">Que se implemente cada vez</tspan><tspan x="2040" dy="15">más en la práctica médica hasta</tspan><tspan x="2040" dy="15">llegar a hospitales como herramienta</tspan><tspan x="2040" dy="15">para ahorrar tiempo entre consultas.</tspan></text></g>
<g id="n-salgan"><rect x="2211" y="1568" width="198" height="80" rx="6" class="shk"/><rect x="2207" y="1564" width="198" height="80" rx="6" class="gr"/><text class="ar c" font-size="11"><tspan x="2306" y="1585">Que salgan nuevos programas</tspan><tspan x="2306" dy="15">que ayuden a diagnosticar</tspan><tspan x="2306" dy="15">enfermedades poco frecuentes,</tspan><tspan x="2306" dy="15">raras y difíciles en los pacientes.</tspan></text></g>
<g id="n-paraasi"><rect x="2003" y="1667" width="56" height="19" rx="7" class="cy"/><text class="ar c" x="2031" y="1680.5" font-size="11" style="fill:#0a2a4a">Para así</text></g>
<g id="n-brindar"><rect x="1883" y="1715" width="147" height="51" rx="6" class="shk"/><rect x="1879" y="1711" width="147" height="51" rx="6" class="yy"/><text class="c" font-size="10.5"><tspan x="1952.5" y="1732">Brindar consultas</tspan><tspan x="1952.5" dy="15">rápidas y de calidad.</tspan></text></g>
<g id="n-poderver"><rect x="2049" y="1717" width="139" height="50" rx="6" class="shk"/><rect x="2045" y="1713" width="139" height="50" rx="6" class="yy"/><text class="c" font-size="10.5"><tspan x="2114.5" y="1734">Poder ver a más</tspan><tspan x="2114.5" dy="15">pacientes en el día.</tspan></text></g>
<g id="n-ia-hecho"><rect x="2276" y="1668" width="70" height="32" rx="7" class="cy"/><text class="ar c" x="2311" y="1688" font-size="11" style="fill:#0a2a4a">Hecho por</text></g>
<g id="n-gael"><rect x="2207" y="1715" width="215" height="43" rx="6" style="fill:#ff99cc;stroke:#000;stroke-width:1"/><text class="tm b i c" font-size="13.2"><tspan x="2314.5" y="1733">Gael Alejandro Herrera Pérez</tspan><tspan x="2314.5" dy="16">Num. de lista: 10</tspan></text></g>

<g id="n-ovario"><rect x="2306" y="1334" width="150" height="60" rx="6" class="pu" style="stroke:#000"/><text class="ar b c" x="2381" y="1368" font-size="12">ovario poliquisitico</text></g>
<g id="n-mejoras"><rect x="2383" y="1458" width="258" height="60" rx="6" class="pu" style="stroke:#0000cc;stroke-width:3"/><text class="tm c" font-size="10.3"><tspan x="2512" y="1478">que haya mejoras en su tratamiento y una revisión</tspan><tspan x="2512" dy="13.5">si tratarlo con píldoras anticonceotivas sea</tspan><tspan x="2512" dy="13.5">la mejor solucion al síndrome</tspan></text></g>

<g id="n-vacunas-vih"><rect x="2420" y="1144" width="255" height="30" rx="6" fill="#777"/><rect x="2417" y="1141" width="255" height="30" rx="6" class="ly"/><text class="ar b c" x="2544.5" y="1160.5" font-size="12.5">Vacunas de celulas T contra el VIH</text></g>
<g id="n-celulas-t"><rect x="2712" y="1156" width="286" height="76" rx="6" class="ly"/><text class="ar c" font-size="10.6"><tspan x="2855" y="1185">Las células T son un tipo de células inmunitarias</tspan><tspan x="2855" dy="13.5">que pueden reconocer y eliminar a los patógenos</tspan><tspan x="2855" dy="13.5">invasores o las células infectadas</tspan></text></g>
<g id="n-vir"><rect x="2490" y="1196" width="106" height="22" rx="8" style="fill:#ffffcc;stroke:#336633;stroke-width:1.5"/><text class="ar c" x="2543" y="1211" font-size="10.5" style="fill:#224422">Vacuna VIR-1388</text></g>
<g id="n-candidata"><rect x="2440" y="1247" width="325" height="71" rx="6" class="ly"/><text class="ar c" font-size="10.6"><tspan x="2602.5" y="1266">Es una candidata preventiva contra</tspan><tspan x="2602.5" dy="13.8">el VIH que usa un vector viral para introducir una parte de</tspan><tspan x="2602.5" dy="13.8">la proteína del VIH en las células del cuerpo,</tspan><tspan x="2602.5" dy="13.8">con el objetivo de estimular la respuesta de las celulas T</tspan></text></g>
<g id="n-proposito"><rect x="2823" y="1275" width="59" height="20" rx="8" class="wl"/><text class="ar c" x="2852.5" y="1289" font-size="10.5" style="fill:#1a2a6a">Proposito</text></g>
<g id="n-sebuscan"><rect x="2942" y="1259" width="273" height="58" rx="6" class="ly"/><text class="ar c" font-size="10.6"><tspan x="3078.5" y="1278">Se buscan estimular la producción de células T</tspan><tspan x="3078.5" dy="14">específicas que puedan combatir al virus y</tspan><tspan x="3078.5" dy="14">prevenir la infección o el desarrollo del VIH</tspan></text></g>
<g id="n-vih-espero"><rect x="2736" y="1354" width="87" height="20" rx="8" class="wl"/><text class="ar c" x="2779.5" y="1368" font-size="10.5" style="fill:#335566">Lo que espero</text></g>
<g id="n-podria"><rect x="2683" y="1406" width="385" height="43" rx="6" class="ly"/><text class="ar c" font-size="10.8"><tspan x="2875.5" y="1425">Podria ser una herramienta clave para reducir la transmisión del VIH</tspan><tspan x="2875.5" dy="14">y mejorar la calidad de vida de las personas afectadas por el virus.</tspan></text></g>
<g id="n-q-erick"><rect x="2388" y="1064" width="47" height="30" rx="6" class="bl"/><text class="ar c" x="2411.5" y="1083" font-size="11">????</text></g>

<g id="n-pildora"><rect x="2389" y="943" width="191" height="65" rx="6" class="shk"/><rect x="2384" y="938" width="191" height="65" rx="6" class="gr"/><text class="ar b c" font-size="12.5"><tspan x="2479.5" y="966">La píldora anticonceptiva</tspan><tspan x="2479.5" dy="17">masculina</tspan></text></g>
<g id="n-pil-espero"><rect x="2598" y="960" width="111" height="21" rx="7" class="cy"/><text class="ar c" x="2653.5" y="974.5" font-size="11" style="fill:#0a2a4a">Lo que espero es</text></g>
<g id="n-quesea"><rect x="2751" y="907" width="256" height="79" rx="6" class="shk"/><rect x="2746" y="902" width="256" height="79" rx="6" class="yy"/><text class="ar c" font-size="10.8"><tspan x="2874" y="923">Que sea efectiva ya que la mujer es la</tspan><tspan x="2874" dy="15">que se proteje de no contraer un embarazo</tspan><tspan x="2874" dy="15">y en ocasiones es malo para su salud</tspan><tspan x="2874" dy="15">al ser hormonal</tspan></text></g>
<g id="n-ycomo"><rect x="2754" y="1012" width="310" height="79" rx="6" class="shk"/><rect x="2749" y="1007" width="310" height="79" rx="6" class="yy"/><text class="ar c" font-size="10.8"><tspan x="2904" y="1027">Y como esta seria una pastilla no hormonal no tendria</tspan><tspan x="2904" dy="15">que afectar la testosterona o cualquier otra hormona,</tspan><tspan x="2904" dy="15">además de que sería práctico y más efectivo</tspan><tspan x="2904" dy="15">que un preservativo</tspan></text></g>
<g id="n-luis"><rect x="3058" y="886" width="212" height="51" rx="6" class="shk"/><rect x="3054" y="882" width="212" height="51" rx="6" class="db"/><text class="b c" font-size="13.3"><tspan x="3160" y="905">Luis Ángel Sosa Cancino</tspan><tspan x="3160" dy="17">#23</tspan></text></g>
<g id="n-pil-hecho"><rect x="3018" y="960" width="69" height="30" rx="7" class="cy"/><text class="ar c" x="3052.5" y="979" font-size="11" style="fill:#0a2a4a">Hecho por</text></g>

<g id="n-nueva-ecv"><rect x="2354" y="756" width="258" height="33" rx="6" fill="#666"/><rect x="2351" y="753" width="258" height="33" rx="6" class="ly" style="stroke:#333"/><text class="ar b c" x="2480" y="774" font-size="11.5">Nueva herramienta de prevención de ECV</text></g>
<g id="n-aha"><rect x="2359" y="494" width="243" height="115" rx="6" class="cr"/><text class="c" font-size="10.4"><tspan x="2480.5" y="513">La AHA ha introducido recientemente</tspan><tspan x="2480.5" dy="14.6">las ecuaciones de predicción del ries-</tspan><tspan x="2480.5" dy="14.6">go de eventos cardiovasculares, con</tspan><tspan x="2480.5" dy="14.6">siglas PREVENT, en un esfuerzo por</tspan><tspan x="2480.5" dy="14.6">mejorar la capacidad de predecir los</tspan><tspan x="2480.5" dy="14.6">riesgos de ECV a 10 y 30 años en a-</tspan><tspan x="2480.5" dy="14.6">dultos de 30 a 79 años</tspan></text></g>
<g id="n-prevent"><rect x="2357" y="218" width="250" height="175" rx="6" class="cr"/><text class="c" font-size="10.4"><tspan x="2482" y="236">PREVENT aborda lagunas clave en las</tspan><tspan x="2482" dy="14.6">ecuaciones de cohortes agrupadas de</tspan><tspan x="2482" dy="14.6">la AHA y la ACC con la inclusión de m</tspan><tspan x="2482" dy="14.6">étricas del sx cv-riñón-metabólico y d</tspan><tspan x="2482" dy="14.6">eterminantes sociales de la salud (si</tspan><tspan x="2482" dy="14.6">están disponibles). También propor-</tspan><tspan x="2482" dy="14.6">ciona estimaciones de riesgo para los</tspan><tspan x="2482" dy="14.6">subtipos de ECV, es decir, ASCVD e</tspan><tspan x="2482" dy="14.6">insuficiencia cardiaca. Está en marcha</tspan><tspan x="2482" dy="14.6">el desarrollo de una calculadora en lí-</tspan><tspan x="2482" dy="14.6">nea para uso clínico.</tspan></text></g>

<g id="n-salud"><rect x="1862" y="695" width="139" height="43" rx="6" class="sht"/><rect x="1859" y="692" width="139" height="43" rx="6" class="tl"/><text class="ar b c" font-size="11"><tspan x="1928.5" y="711">Salud móvil para</tspan><tspan x="1928.5" dy="14">depresión post-parto</tspan></text></g>
<g id="n-rentable-s"><rect x="1850" y="568" width="68" height="28" rx="6" class="sht"/><rect x="1847" y="565" width="68" height="28" rx="6" class="tl"/><text class="ar c" x="1881" y="583" font-size="10.5" style="fill:#223344">Rentable</text></g>
<g id="n-facil"><rect x="1941" y="568" width="107" height="28" rx="6" class="sht"/><rect x="1938" y="565" width="107" height="28" rx="6" class="tl"/><text class="ar c" x="1991.5" y="583" font-size="10.5" style="fill:#223344">De fácil acceso</text></g>
<g id="n-enuso"><rect x="2067" y="569" width="261" height="60" rx="6" class="sht"/><rect x="2064" y="566" width="261" height="60" rx="6" class="tl"/><text class="ar c" font-size="10.8" style="fill:#223344"><tspan x="2194.5" y="585">En el uso de herramientas de sanidad móvil,</tspan><tspan x="2194.5" dy="14">como aplicaciones, para ayudar a mujeres</tspan><tspan x="2194.5" dy="14">que sufren de depresión post-parto.</tspan></text></g>
<g id="n-paulina"><rect x="2135" y="471" width="134" height="45" rx="6" class="sht"/><rect x="2132" y="468" width="134" height="45" rx="6" class="tl"/><text class="ar b c" font-size="11"><tspan x="2199" y="487">Paulina Janet</tspan><tspan x="2199" dy="14">Mejía Velázquez #15</tspan></text></g>
<g id="n-beneficie"><rect x="2150" y="640" width="259" height="73" rx="6" class="sht"/><rect x="2147" y="637" width="259" height="73" rx="6" class="tl"/><text class="ar c" font-size="10.8" style="fill:#223344"><tspan x="2276.5" y="656">Beneficie a personas que sufren de</tspan><tspan x="2276.5" dy="13.7">enfermedades mentales en general,</tspan><tspan x="2276.5" dy="13.7">al brindar una alternativa de tratamiento</tspan><tspan x="2276.5" dy="13.7">con una gran viabilidad y facilidad de acceso.</tspan></text></g>
<g id="n-hipercol"><rect x="2084" y="415" width="305" height="35" rx="6" class="shn"/><rect x="2081" y="412" width="305" height="35" rx="6" class="wb"/><text class="ar c" x="2233.5" y="433" font-size="10.8" style="fill:#223344">Edición genética de la hipercolesterolemia</text></g>

<g id="n-capaces"><rect x="2697" y="329" width="335" height="61" rx="6" class="sht"/><rect x="2694" y="326" width="335" height="61" rx="6" class="tl"/><text class="ar b c" font-size="10.6"><tspan x="2861.5" y="345">Las células madre son capaces de hacer copias de</tspan><tspan x="2861.5" dy="13.8">si mismas y diferenciarse de otras células dando lugar</tspan><tspan x="2861.5" dy="13.8">por ejemplo a un ógano u tejido.</tspan></text></g>
<g id="n-parkinson"><rect x="2686" y="609" width="299" height="33" rx="6" class="sht"/><rect x="2683" y="606" width="299" height="33" rx="6" class="tl"/><text class="ar b c" x="2832.5" y="626" font-size="11.3">Células madre para la enfermedad del Parkinson</text></g>
<g id="n-transplante"><rect x="3028" y="426" width="321" height="73" rx="6" class="sht"/><rect x="3025" y="423" width="321" height="73" rx="6" class="tl"/><text class="ar b c" font-size="10.6"><tspan x="3185.5" y="442">El transplante de neuronas dopaminérgicas</tspan><tspan x="3185.5" dy="13.8">derivadas de células madre embrionarias humanas</tspan><tspan x="3185.5" dy="13.8">tiene el potencial de cambiar la vida de las personas</tspan><tspan x="3185.5" dy="13.8">con parkinson moderado.</tspan></text></g>
<g id="n-tratamientos"><rect x="3062" y="522" width="349" height="71" rx="6" class="sht"/><rect x="3059" y="519" width="349" height="71" rx="6" class="tl"/><text class="ar b c" font-size="10.6"><tspan x="3233.5" y="538">Los tratamientos de células madre para la enfermedad</tspan><tspan x="3233.5" dy="13.8">del parkinson actualmente son muy controversiales</tspan><tspan x="3233.5" dy="13.8">aunque espero que en un futuro sea una herramiennta de</tspan><tspan x="3233.5" dy="13.8">utilidad.</tspan></text></g>

<g id="n-vendaje"><rect x="3112" y="751" width="245" height="44" rx="6" fill="#0000cc"/><rect x="3109" y="747" width="245" height="44" rx="6" class="wl"/><text class="ar b c" font-size="12.5"><tspan x="3231.5" y="765">Vendaje electrónico para acelerar</tspan><tspan x="3231.5" dy="16">la cicatrización</tspan></text></g>
<g id="n-pequeno"><rect x="3568" y="533" width="236" height="73" rx="6" class="shn"/><rect x="3565" y="530" width="236" height="73" rx="6" class="wb"/><text class="ar c" font-size="10.9"><tspan x="3683" y="550">Es un pequeño </tspan><tspan class="b">vendaje</tspan><tspan>, flexible y</tspan><tspan x="3683" dy="14">elástico </tspan><tspan class="b">que acelera la cicatrización</tspan><tspan x="3683" dy="14" class="b">aplicando electroterapia directamente</tspan><tspan x="3683" dy="14" class="b">a la herida.</tspan></text></g>
<g id="n-q-heridas"><rect x="3980" y="666" width="46" height="28" rx="6" class="shn"/><rect x="3977" y="663" width="46" height="28" rx="6" class="wb"/><text class="ar c" x="4000" y="681" font-size="11.5">????</text></g>

<g id="n-cirugia"><rect x="526" y="946" width="168" height="36" rx="6" class="shk"/><rect x="522" y="942" width="168" height="36" rx="6" class="mg"/><text class="ar c" x="606" y="964" font-size="10" textLength="147" lengthAdjust="spacingAndGlyphs" style="fill:#1a0010">CIRUGIA ROBOTICA AVANZADA</text></g>
<g id="n-paraavanzar"><rect x="374" y="1027" width="145" height="75" rx="6" class="shk"/><rect x="370" y="1023" width="145" height="75" rx="6" class="mg"/><text class="ar c" font-size="10.5" style="fill:#1a0010"><tspan x="442.5" y="1046">Para avanzar</tspan><tspan x="442.5" dy="19">en la cirugía robótica en</tspan><tspan x="442.5" dy="19">2024.</tspan></text></g>
<g id="n-utilizar"><rect x="557" y="1026" width="188" height="76" rx="6" class="shk"/><rect x="553" y="1022" width="188" height="76" rx="6" class="mg"/><text class="ar c" font-size="10.5" style="fill:#1a0010"><tspan x="647" y="1043">Utilizar las bases de</tspan><tspan x="647" dy="19">la tecnología robotica medica</tspan><tspan x="647" dy="19">para mejorar la cirugía robotica.</tspan></text></g>
<g id="n-podertener"><rect x="564" y="1123" width="161" height="154" rx="6" class="shk"/><rect x="560" y="1119" width="161" height="154" rx="6" class="mg"/><text class="ar c" font-size="10.5" style="fill:#1a0010"><tspan x="640.5" y="1141">Poder tener una mejor</tspan><tspan x="640.5" dy="19.3">visualización detallada,</tspan><tspan x="640.5" dy="19.3">menos invasividad y</tspan><tspan x="640.5" dy="19.3">recuperación rápida,</tspan><tspan x="640.5" dy="19.3">mejorando procedimientos</tspan><tspan x="640.5" dy="19.3">quirúrgicos</tspan><tspan x="640.5" dy="19.3">ya conocidos</tspan></text></g>
<g id="n-haciendo"><rect x="353" y="1117" width="158" height="20" rx="7" class="cy"/><text class="b c wt" x="432" y="1131.5" font-size="12.5">HACIENDO USO DE</text></g>
<g id="n-invertir"><rect x="343" y="1156" width="196" height="111" rx="6" class="shk"/><rect x="339" y="1152" width="196" height="111" rx="6" class="pk"/><text class="c" font-size="10.2"><tspan x="437" y="1173">°invertir en investigación</tspan><tspan x="437" dy="14.8">°Fomentar la colaboración</tspan><tspan x="437" dy="14.8">con otras diciplinas,</tspan><tspan x="437" dy="14.8">como la inteligencia artifical</tspan><tspan x="437" dy="14.8">°Promover el uso mundial de</tspan><tspan x="437" dy="14.8">tecnologías innovadoras.</tspan></text></g>
<g id="n-elaborado"><rect x="372" y="1294" width="143" height="21" rx="7" class="cy"/><text class="b c wt" x="443.5" y="1309" font-size="12.5">ELABORADO POR</text></g>
<g id="n-porejemplo"><rect x="587" y="1289" width="120" height="19" rx="7" class="cy"/><text class="b c wt" x="647" y="1303" font-size="12.3">POR EJEMPLO</text></g>
<g id="n-cardicas"><rect x="564" y="1333" width="152" height="32" rx="6" class="shk"/><rect x="560" y="1329" width="152" height="32" rx="6" class="pk"/><text class="c" x="636" y="1349" font-size="11">CIRUGIAS CARDICAS</text></g>
<g id="n-juanpablo"><rect x="391" y="1379" width="251" height="47" rx="6" class="shk"/><rect x="387" y="1375" width="251" height="47" rx="6" class="pk"/><text class="c" font-size="10.8"><tspan x="512.5" y="1395">JUAN PABLO ENRIQUEZ RODRIGUEZ</tspan><tspan x="512.5" dy="14.5">NUM LISTA:05</tspan></text></g>

<g id="n-vacuna-recaidas"><rect x="449" y="810" width="359" height="43" rx="6" fill="#8f95c0"/><rect x="446" y="806" width="359" height="43" rx="6" fill="#cc99ff"/><text class="b wt" font-size="12.8"><tspan x="455" y="822">Vacuna que disminuye el riesgo de recaídas</tspan><tspan x="451" dy="17">en cáncer de pancreás y colon</tspan></text></g>
</svg>
